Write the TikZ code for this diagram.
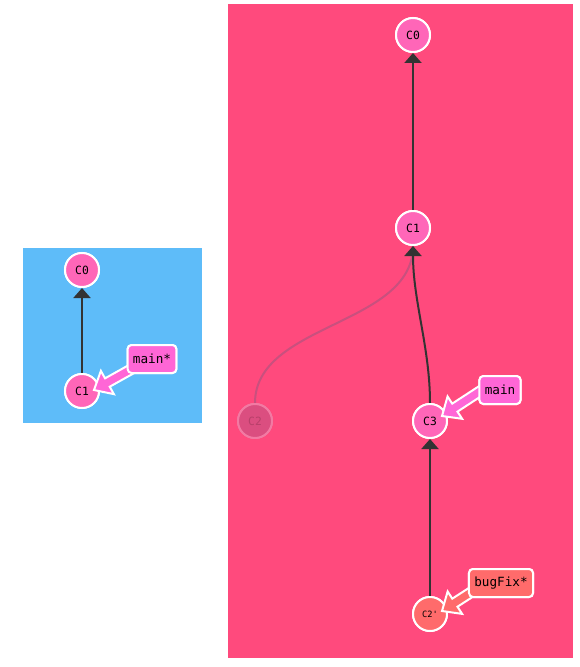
\documentclass[tikz,border=0pt]{standalone}
\usepackage{fontspec}
\setmonofont{DejaVu Sans Mono}
\usetikzlibrary{arrows.meta,calc}
\definecolor{bgblue}{HTML}{5EBCF9}
\definecolor{bgpink}{HTML}{FF4A7D}
\definecolor{commitpink}{HTML}{FF66B8}
\definecolor{labelpink}{HTML}{FF66D6}
\definecolor{salmon}{HTML}{FF6B6B}
\definecolor{edgegray}{HTML}{333333}
\definecolor{fadedfill}{HTML}{DB4E80}
\definecolor{fadedline}{HTML}{F27AA3}
\definecolor{fadedtext}{HTML}{B8406A}
\definecolor{fadededge}{HTML}{C9507E}
\tikzset{
  commit/.style={circle, draw=white, line width=1.5pt, fill=commitpink,
    minimum size=25.5pt, inner sep=0pt, font=\ttfamily\fontsize{8.5}{8.5}\selectfont},
  fadedcommit/.style={commit, fill=fadedfill, draw=fadedline, text=fadedtext},
  branch/.style={rectangle, rounded corners=3pt, draw=white, line width=1.5pt,
    fill=labelpink, minimum height=21pt, inner xsep=4pt,
    font=\ttfamily\fontsize{9.5}{9.5}\selectfont},
  gitedge/.style={draw=edgegray, line width=1.5pt},
  gitarrow/.style={gitedge, -{Triangle[width=12.75pt,length=7.5pt]}},
  fadedarrow/.style={draw=fadededge, line width=1.5pt},
}
\newcommand{\brptr}[4]{%
  \coordinate (h#4) at ($(#2)!11.5pt!(#1)$);
  \draw[white, line width=1.5pt, fill=#3, line join=miter]
    ($(#1)!3.6pt!90:(#2)$) -- ($(h#4)!3.6pt!90:(#2)$) -- ($(h#4)!10pt!90:(#2)$)
    -- (#2) -- ($(h#4)!10pt!-90:(#2)$) -- ($(h#4)!3.6pt!-90:(#2)$)
    -- ($(#1)!3.6pt!-90:(#2)$) -- cycle;
}
\begin{document}
\begin{tikzpicture}[x=0.75pt,y=-0.75pt]
\useasboundingbox (0,0) rectangle (579,667);
\fill[white] (0,0) rectangle (579,667);
% panels
\fill[bgblue] (23,248) rectangle (202,423);
\fill[bgpink] (228,4) rectangle (573,658);

% left panel commits
\node[commit] (lc0) at (82,270) {C0};
\node[commit] (lc1) at (82,391) {C1};
\draw[gitarrow] (lc1.north) -- (lc0.south);

% right panel commits
\node[commit] (rc0) at (413,35) {C0};
\node[commit] (rc1) at (413,228) {C1};
\node[fadedcommit] (rc2) at (255,421) {C2};
\node[commit] (rc3) at (430,421) {C3};
\node[commit, fill=salmon, font=\ttfamily\fontsize{6.5}{6.5}\selectfont] (rc2p) at (430,614) {C2'};

\draw[fadedarrow] (rc2.north) .. controls ($(rc2.north)+(0,-80)$) and ($(rc1.south)+(0,80)$) .. (rc1.south);
\draw[gitarrow] (rc1.north) -- (rc0.south);
\draw[gitarrow] (rc3.north) .. controls ($(rc3.north)+(0,-55)$) and ($(rc1.south)+(0,55)$) .. (rc1.south);
\draw[gitarrow] (rc2p.north) -- (rc3.south);

% redraw commits above edges
\node[commit] at (lc0) {C0};
\node[commit] at (lc1) {C1};
\node[commit] at (rc0) {C0};
\node[commit] at (rc1) {C1};
\node[fadedcommit] at (rc2) {C2};
\node[commit] at (rc3) {C3};
\node[commit, fill=salmon, font=\ttfamily\fontsize{6.5}{6.5}\selectfont] at (rc2p) {C2'};

% branch labels
\node[branch] (lmain) at (152,359) {main*};
\node[branch] (rmain) at (500,390) {main};
\node[branch, fill=salmon] (rbug) at (501,583) {bugFix*};

\coordinate (t1) at ($(lc1.center)+(12,-1)$);
\coordinate (s1) at ($(lmain.south west)+(5,-5)$);
\coordinate (t2) at ($(rc3.center)+(12,-5)$);
\coordinate (s2) at ($(rmain.south west)+(5,-16)$);
\coordinate (t3) at ($(rc2p.center)+(12,-3)$);
\coordinate (s3) at ($(rbug.south west)+(5,-7)$);
\brptr{s1}{t1}{labelpink}{a}
\brptr{s2}{t2}{labelpink}{b}
\brptr{s3}{t3}{salmon}{c}

\node[branch] at (lmain) {main*};
\node[branch] at (rmain) {main};
\node[branch, fill=salmon] at (rbug) {bugFix*};
\end{tikzpicture}
\end{document}
